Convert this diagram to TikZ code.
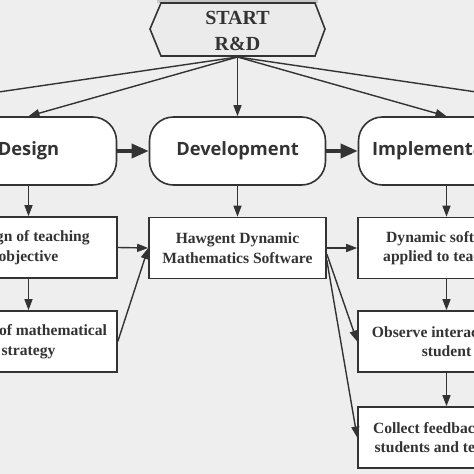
\documentclass[tikz,border=0pt]{standalone}
\usepackage{fontspec}
\setmainfont{Liberation Serif}
\newfontfamily\boxsans{Open Sans}
\usetikzlibrary{arrows.meta}
\definecolor{ink}{HTML}{333333}
\definecolor{bg}{HTML}{EEEEEE}
\definecolor{hexfill}{HTML}{EBEBEB}
\begin{document}
\begin{tikzpicture}[x=1pt,y=-1pt,
  phase/.style={draw=ink, line width=1.6pt, fill=white, rounded corners=24pt,
    minimum width=176pt, minimum height=68pt, inner sep=0pt,
    font=\boxsans\bfseries\fontsize{18.3}{20}\selectfont, text=ink},
  stepbox/.style={draw=ink, line width=1.6pt, fill=white, minimum width=177pt,
    minimum height=61pt, align=center, inner sep=0pt,
    font=\bfseries\fontsize{15.6}{19.5}\selectfont, text=ink},
  arr/.style={draw=ink, line width=1.4pt, -{Triangle[length=11pt,width=8pt]}},
  bigarr/.style={draw=ink, line width=3.5pt, -{Triangle[length=17pt,width=14pt]}}
]
\useasboundingbox (0,0) rectangle (474,474);
\clip (0,0) rectangle (474,474);
\fill[bg] (0,0) rectangle (474,474);
\fill[gray!45] (157,0) rectangle (318,3);
% start hexagon
\draw[ink, line width=1.6pt, fill=hexfill] (150,29) -- (161,3) -- (315,3) -- (325,29) -- (315,56) -- (161,56) -- cycle;
\node[align=center, text=ink, font=\bfseries\fontsize{20}{26}\selectfont] (start) at (237.5,31) {START\\R\&D};
\coordinate (so) at (237.5,57);
\coordinate (farL) at (-60,100.6);
\coordinate (farR) at (535,100.6);
% phases
\node[phase] (design) at (28.5,151) {Design};
\node[phase] (develop) at (237.5,151) {Development};
\node[phase] (impl) at (446.5,151) {Implementation};
% steps
\node[stepbox] (r1a) at (28.5,247.5) {Design of teaching\\objective};
\node[stepbox] (r1b) at (28.5,341.5) {Design of mathematical\\strategy};
\node[stepbox] (hdms) at (237.5,248) {Hawgent Dynamic\\Mathematics Software};
\node[stepbox] (r1c) at (446.5,248) {Dynamic software\\applied to teaching};
\node[stepbox] (r2c) at (446.5,341.5) {Observe interaction of\\student};
\node[stepbox] (r3c) at (446.5,437.5) {Collect feedback from\\students and teachers};
% connectors
\draw[arr] (so) -- (farL);
\draw[arr] (so) -- (design.north);
\draw[arr] (so) -- (develop.north);
\draw[arr] (so) -- (impl.north);
\draw[arr] (so) -- (farR);
\draw[bigarr] (design.east) -- (develop.west);
\draw[bigarr] (develop.east) -- (impl.west);
\draw[arr] (design.south) -- (r1a.north);
\draw[arr] (develop.south) -- (hdms.north);
\draw[arr] (impl.south) -- (r1c.north);
\draw[arr] (r1a.south) -- (r1b.north);
\draw[arr] (r1c.south) -- (r2c.north);
\draw[arr] (r2c.south) -- (r3c.north);
\draw[arr] (r1a.east) -- (hdms.west);
\draw[arr] (r1b.east) -- (hdms.west);
\draw[arr] (hdms.east) -- (r1c.west);
\draw[arr] ([yshift=-6pt]hdms.east) -- (r2c.west);
\draw[arr] ([yshift=-12pt]hdms.east) -- (r3c.west);
\end{tikzpicture}
\end{document}
